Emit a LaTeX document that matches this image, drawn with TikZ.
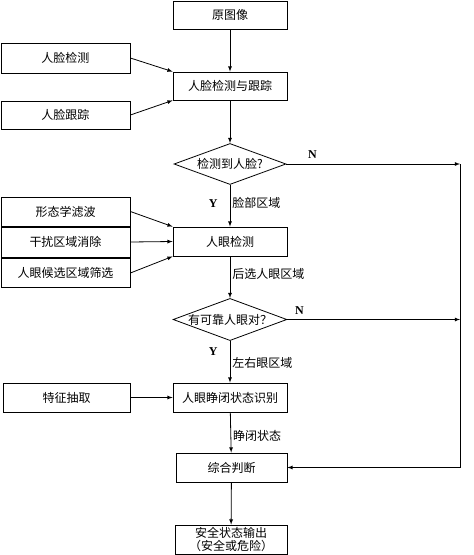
\documentclass[tikz,border=0pt]{standalone}
\usepackage{fontspec}
\setmainfont{Noto Sans CJK SC}
\newfontfamily\yesno{Liberation Serif}
\usepackage{tikz}
\usetikzlibrary{arrows,shapes.geometric}

\begin{document}
\begin{tikzpicture}[x=1pt, y=-1pt, line width=0.8pt, >=latex,
        box/.style={draw, minimum width=114pt, minimum height=29pt, inner sep=0pt, font=\fontsize{12}{14}\selectfont},
        side/.style={box, minimum width=129pt},
        choice/.style={draw, diamond, aspect=2.7, minimum width=112pt, minimum height=41pt, inner sep=0pt, font=\fontsize{12}{14}\selectfont},
        lbl/.style={inner sep=2pt, font=\fontsize{12}{14}\selectfont},
        yn/.style={inner sep=2pt, font=\yesno\bfseries\fontsize{12}{14}\selectfont}]
        \useasboundingbox (0,0) rectangle (474,555);
        % main column
        \node[box, minimum height=28pt] (src) at (230,15) {原图像};
        \node[box, minimum height=28pt] (track) at (230,86) {人脸检测与跟踪};
        \node[choice] (face) at (230,164) {检测到人脸?};
        \node[box] (eye) at (230,241.5) {人眼检测};
        \node[choice] (pair) at (230,319.5) {有可靠人眼对？};
        \node[box] (state) at (230,397.5) {人眼睁闭状态识别};
        \node[box, minimum width=111pt] (judge) at (231.5,467.5) {综合判断};
        \node[box, minimum width=112pt, align=center, font=\fontsize{12}{13}\selectfont] (out) at (231,539.5) {安全状态输出\\（安全或危险）};
        % side inputs
        \node[side, minimum height=30pt] (facedet) at (65.5,58) {人脸检测};
        \node[side, minimum height=28pt] (facetrk) at (65.5,115) {人脸跟踪};
        \node[side] (morph) at (65.5,211.5) {形态学滤波};
        \node[side, minimum height=30pt] (noise) at (65.5,242) {干扰区域消除};
        \node[side] (cand) at (65.5,273) {人眼候选区域筛选};
        \node[side, minimum width=127pt] (feat) at (66.5,397.5) {特征抽取};
        % right return line
        \coordinate (r1) at (460,164);
        \coordinate (r2) at (460,319.5);
        \coordinate (r3) at (460,467.5);

        \foreach \a/\b in {facedet/track.north west, facetrk/track.south west, morph/eye.north west, noise/eye.west, cand/eye.south west, feat/state.west}{
        \draw[->] (\a.east) -- (\b);}
        \draw[->] (src) -- (track);
        \draw[->] (track) -- (face);
        \draw[->] (face) -- (eye) node[pos=0.45, left=10pt, yn] {Y} node[pos=0.42, right, lbl] {脸部区域};
        \draw[->] (eye) -- (pair) node[pos=0.43, right, lbl] {后选人眼区域};
        \draw[->] (pair) -- (state) node[pos=0.26, left=10pt, yn] {Y} node[pos=0.52, right, lbl] {左右眼区域};
        \draw[->] (state) -- (judge) node[pos=0.58, right, lbl] {睁闭状态};
        \draw[->] (judge) -- (out);
        \draw[->] (face) -- (r1) node[pos=0.15, above=3pt, yn] {N};
        \draw[->] (pair) -- (r2) node[pos=0.07, above=3pt, yn] {N};
        \draw (r1) -- (r3);
        \draw[->] (r3) -- (judge);
    \end{tikzpicture}
\end{document}
